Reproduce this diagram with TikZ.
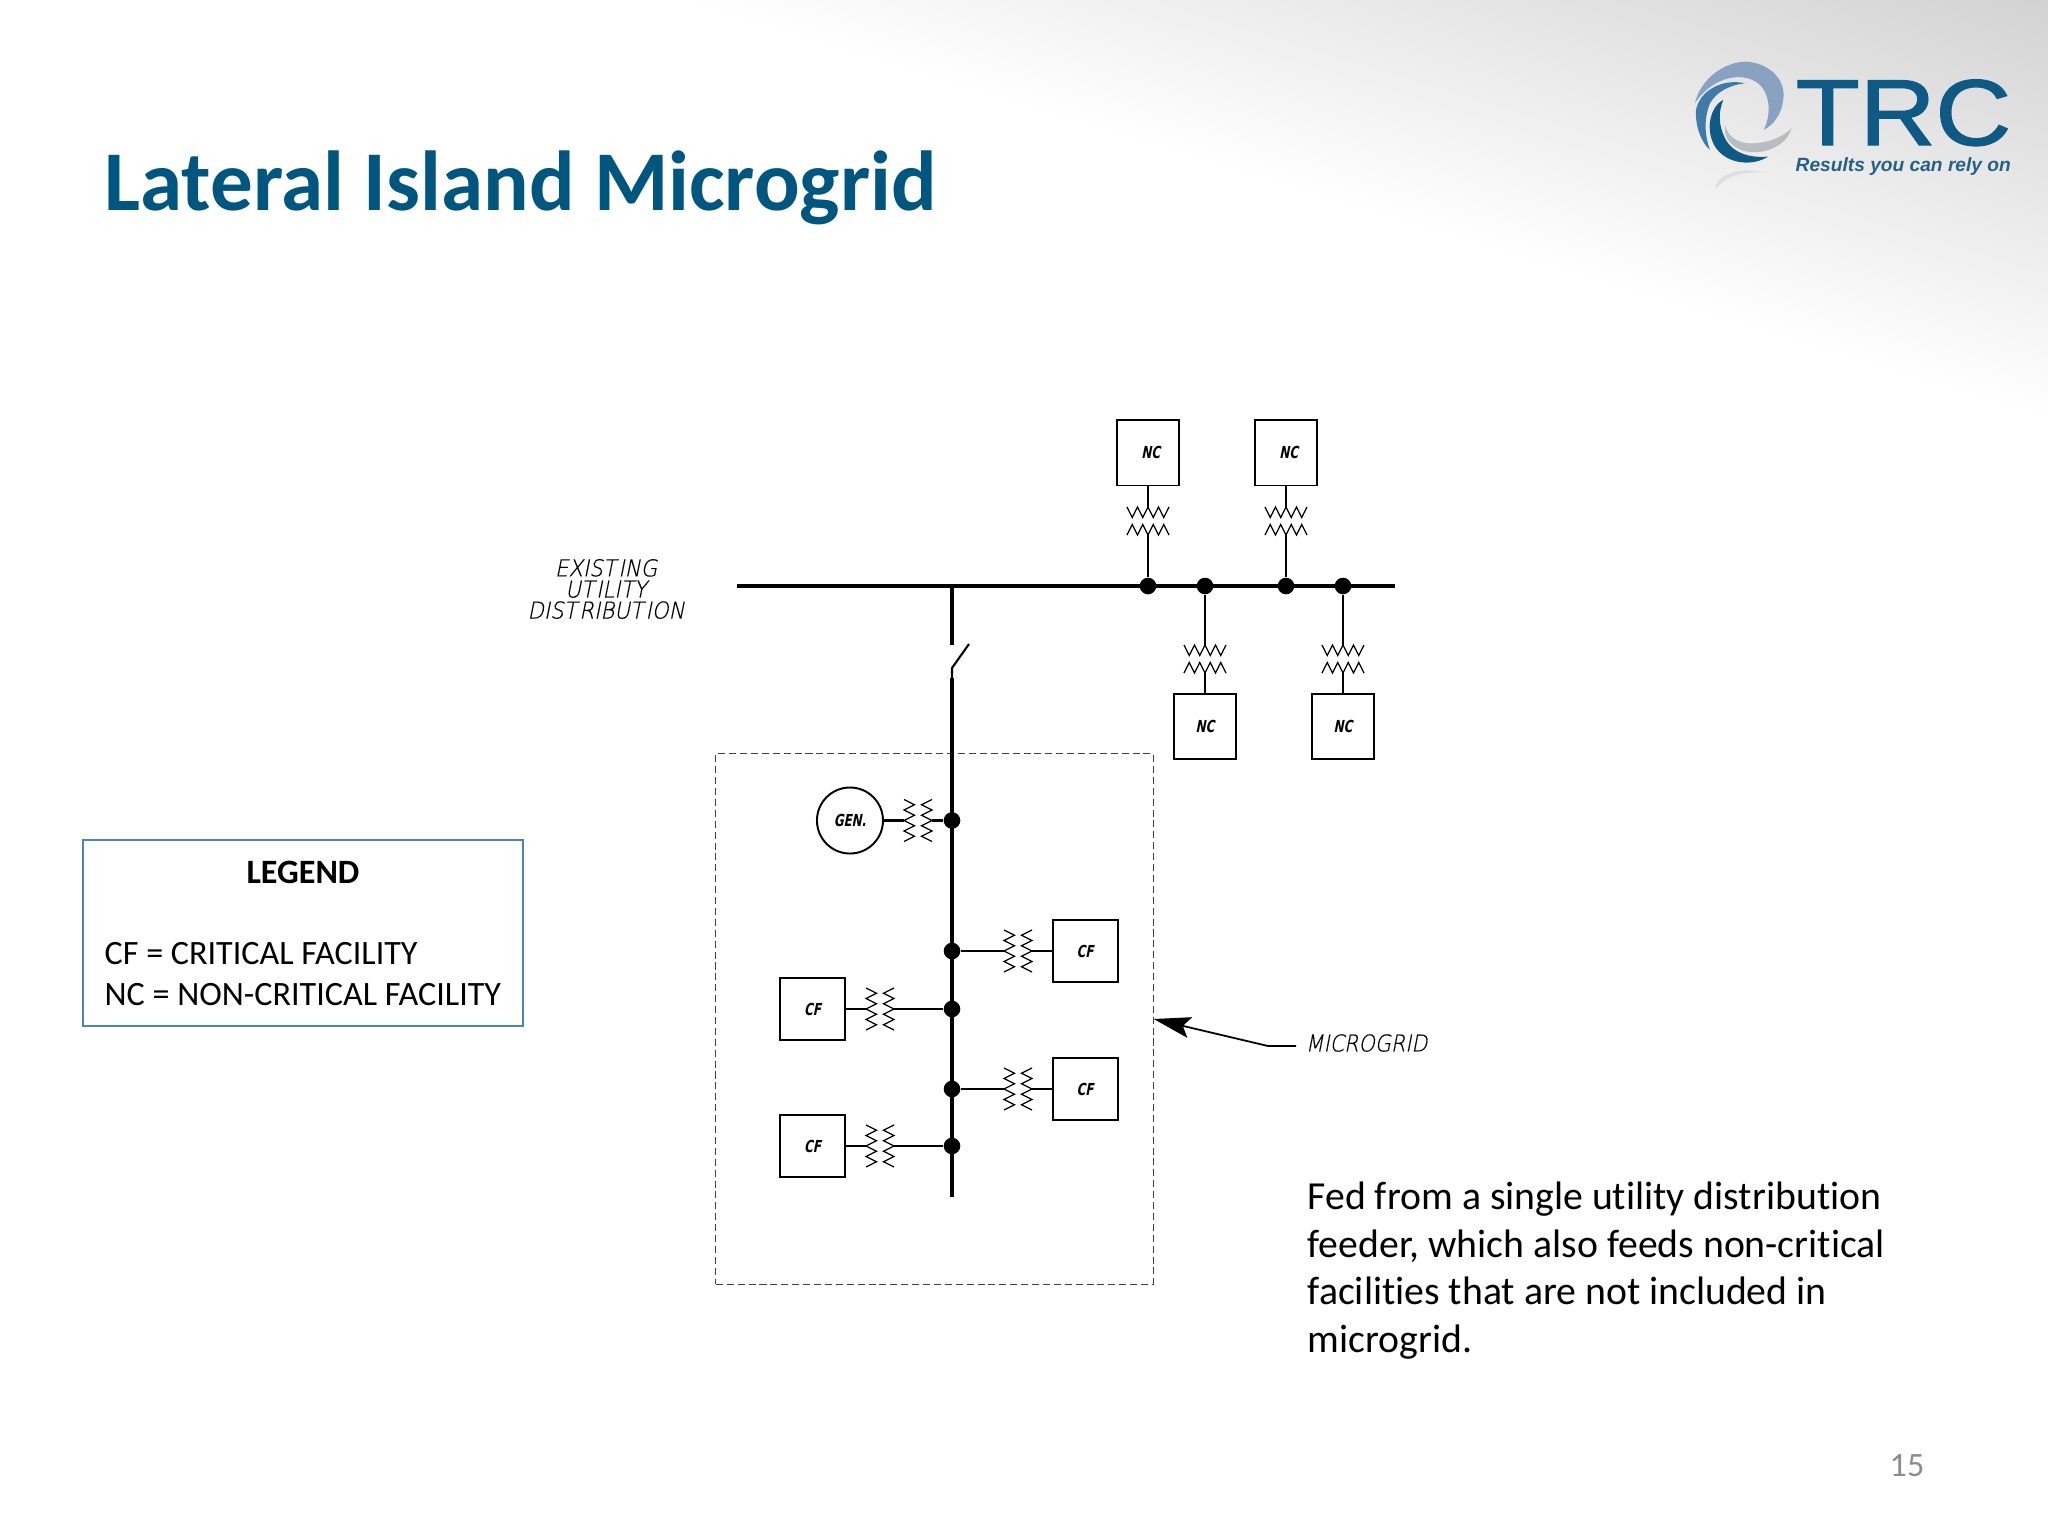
\documentclass[tikz,border=0pt]{standalone}
\usepackage{fontspec}
\usepackage{xcolor}
\usetikzlibrary{arrows.meta,positioning,calc}
\setmainfont[Ligatures=NoCommon]{Carlito}
\newfontfamily\cadfont[FakeSlant=0.2,FakeStretch=0.92,FakeBold=0.4]{DejaVu Sans ExtraLight}
\newfontfamily\cadbold[FakeSlant=0.2,FakeStretch=0.72]{DejaVu Sans Bold}
\newfontfamily\logofont{Liberation Sans}
\newfontfamily\logoheavy[FakeBold=1.5]{Liberation Sans}
\definecolor{titleblue}{HTML}{00567F}
\definecolor{legendblue}{HTML}{4F81BD}
\definecolor{pagegray}{HTML}{8C8C8C}
\definecolor{logoblue}{HTML}{0F5A85}
\definecolor{swirlmid}{HTML}{3F7AA8}
\definecolor{swirlpale}{HTML}{8AA2C2}
\definecolor{swirlgray}{HTML}{B9BDC2}

\begin{document}
\begin{tikzpicture}[
    x=0.01cm, y=-0.01cm,
    bus/.style={line width=0.95pt},
    wire/.style={line width=0.6pt},
    coil/.style={line width=0.33pt},
    ncbox/.style={rectangle, draw=black, line width=0.55pt, minimum width=0.62cm, minimum height=0.65cm, inner sep=0pt, font=\cadbold\fontsize{4.7}{5}\selectfont},
    cfbox/.style={rectangle, draw=black, line width=0.55pt, minimum width=0.65cm, minimum height=0.62cm, inner sep=0pt, font=\cadbold\fontsize{4.7}{5}\selectfont},
    gencircle/.style={circle, draw=black, line width=0.55pt, minimum size=0.66cm, inner sep=0pt, font=\cadbold\fontsize{4.7}{5}\selectfont},
    junction/.style={circle, fill=black, minimum size=0.166cm, inner sep=0pt},
    dashbox/.style={rectangle, draw=black!75, line width=0.35pt, dash pattern=on 2pt off 1.1pt, minimum width=4.37cm, minimum height=5.3cm},
    cadlabel/.style={font=\cadfont\fontsize{6.6}{6}\selectfont, align=center, inner sep=0pt},
    pointer/.style={line width=0.5pt, -{Stealth[length=10.5pt, width=6pt, inset=2pt]}},
    legendbox/.style={rectangle, draw=legendblue, line width=0.6pt, minimum width=4.4cm, minimum height=1.86cm},
    legendtext/.style={anchor=base west, inner sep=0pt, font=\fontsize{9.7}{12}\selectfont},
    xfmr/.pic={
        \coordinate (-a) at (0,-14);
        \coordinate (-b) at (0,14);
        \foreach \s in {-1,1}
            \draw[coil] (-21,14*\s) -- (-15.75,3.5*\s) -- (-10.5,14*\s) -- (-5.25,3.5*\s) -- (0,14*\s)
                -- (5.25,3.5*\s) -- (10.5,14*\s) -- (15.75,3.5*\s) -- (21,14*\s);
    }
]
    \useasboundingbox (0,0) rectangle (2048,1536);

    % page background
    \begin{scope}
        \clip (0,0) rectangle (2048,1536);
        \begin{scope}[transform canvas={rotate around={-17:(2048,420)}}]
            \shade[top color=black!20, bottom color=white] (400,-40) rectangle (2700,420);
        \end{scope}
    \end{scope}

    \node[anchor=base west, inner sep=0pt, text=titleblue, font=\bfseries\fontsize{24.2}{28}\selectfont] (title) at (104,210) {Lateral Island Microgrid};

    % logo
    \begin{scope}[shift={(1690,50)}, x=0.00333cm, y=-0.00333cm]
        \fill[swirlpale] (15,160) .. controls (30,90) and (100,35) .. (170,35) .. controls (240,40) and (290,90) .. (280,150)
            .. controls (275,195) and (250,225) .. (222,240) .. controls (240,200) and (245,150) .. (215,110)
            .. controls (170,60) and (70,75) .. (15,160) -- cycle;
        \fill[swirlmid] (165,100) .. controls (100,85) and (30,120) .. (18,180) .. controls (15,230) and (35,280) .. (60,300)
            .. controls (45,260) and (40,210) .. (60,160) .. controls (80,125) and (120,105) .. (165,100) -- cycle;
        \fill[logoblue] (100,150) .. controls (60,170) and (45,240) .. (75,290) .. controls (110,345) and (190,350) .. (235,320)
            .. controls (190,325) and (130,315) .. (105,265) .. controls (85,225) and (85,185) .. (100,150) -- cycle;
        \fill[swirlgray] (105,225) .. controls (115,270) and (160,285) .. (200,280) .. controls (245,275) and (280,260) .. (305,235)
            .. controls (290,290) and (220,315) .. (170,305) .. controls (125,295) and (100,265) .. (105,225) -- cycle;
        \fill[swirlgray, opacity=0.35] (75,420) .. controls (80,380) and (130,350) .. (225,368) .. controls (160,365) and (110,375) .. (75,420) -- cycle;
    \end{scope}
    \node[anchor=base west, inner sep=0pt, xscale=1.12, text=logoblue, font=\logoheavy\fontsize{26.6}{28}\selectfont] (logotrc) at (1795,145) {TRC};
    \node[anchor=base west, inner sep=0pt, text=logoblue!80!gray, font=\logofont\bfseries\itshape\fontsize{5.45}{6}\selectfont] (logotag) at (1795,171) {Results you can rely on};

    % legend
    \node[legendbox] (legend) at (303,933) {};
    \node[legendtext, anchor=base, font=\bfseries\fontsize{9.7}{12}\selectfont] (legendhead) at (303,883) {LEGEND};
    \node[legendtext] (legendcf) at (104,964) {CF = CRITICAL FACILITY};
    \node[legendtext] (legendnc) at (104,1005) {NC = NON-CRITICAL FACILITY};

    % utility feeder
    \coordinate (busleft) at (737,586);
    \coordinate (busright) at (1395,586);
    \coordinate (tap) at (952,586);
    \coordinate (swtop) at (952,645);
    \coordinate (swblade) at (969,644);
    \coordinate (swhinge) at (952,668);
    \coordinate (swlow) at (952,678);
    \coordinate (feedend) at (952,1197);
    \node[cadlabel] (existing) at (606,589) {EXIST\kern0.7pt ING\\UT\kern0.6pt ILITY\\DIST\kern0.7pt RIBUT\kern0.7pt ION};

    \node[junction] (d1) at (1148,586) {};
    \node[junction] (d2) at (1205,586) {};
    \node[junction] (d3) at (1286,586) {};
    \node[junction] (d4) at (1343,586) {};
    \node[ncbox, above=0.905cm of d1] (nc1) {\hspace{1.5pt}NC};
    \node[ncbox, above=0.905cm of d3] (nc2) {\hspace{1.5pt}NC};
    \node[ncbox, below=0.98cm of d2] (nc3) {NC};
    \node[ncbox, below=0.98cm of d4] (nc4) {NC};
    \pic (t1) at ($(d1)+(0,-65)$) {xfmr};
    \pic (t2) at ($(d3)+(0,-65)$) {xfmr};
    \pic (t3) at ($(d2)+(0,73)$) {xfmr};
    \pic (t4) at ($(d4)+(0,73)$) {xfmr};

    % microgrid
    \node[dashbox] (microgrid) at (934.5,1019) {};
    \node[junction] (g0) at (952,820.5) {};
    \node[junction] (c1) at (952,951) {};
    \node[junction] (c2) at (952,1009) {};
    \node[junction] (c3) at (952,1089) {};
    \node[junction] (c4) at (952,1146) {};
    \node[gencircle, left=0.59cm of g0] (gen) {GEN.};
    \node[cfbox, right=0.905cm of c1] (cf1) {CF};
    \node[cfbox, left=0.97cm of c2] (cf2) {CF};
    \node[cfbox, right=0.905cm of c3] (cf3) {CF};
    \node[cfbox, left=0.97cm of c4] (cf4) {CF};
    \pic[rotate=90] (t5) at ($(g0)+(-34,0)$) {xfmr};
    \pic[rotate=90] (t6) at ($(c1)+(66,0)$) {xfmr};
    \pic[rotate=90] (t7) at ($(c2)+(-72,0)$) {xfmr};
    \pic[rotate=90] (t8) at ($(c3)+(66,0)$) {xfmr};
    \pic[rotate=90] (t9) at ($(c4)+(-72,0)$) {xfmr};

    \draw[bus] (busleft) -- (busright);
    \draw[bus] (tap) -- (swtop);
    \draw[wire] (swblade) -- (swhinge) -- (swlow);
    \draw[bus] (swlow) -- (feedend);

    \draw[wire] (nc1) -- (t1-a);
    \draw[wire] (t1-b) -- (d1);
    \draw[wire] (nc2) -- (t2-a);
    \draw[wire] (t2-b) -- (d3);
    \draw[wire] (d2) -- (t3-a);
    \draw[wire] (t3-b) -- (nc3);
    \draw[wire] (d4) -- (t4-a);
    \draw[wire] (t4-b) -- (nc4);

    \draw[wire] (gen) -- (t5-a);
    \draw[wire] (t5-b) -- (g0);
    \draw[wire] (c1) -- (t6-a);
    \draw[wire] (t6-b) -- (cf1);
    \draw[wire] (cf2) -- (t7-a);
    \draw[wire] (t7-b) -- (c2);
    \draw[wire] (c3) -- (t8-a);
    \draw[wire] (t8-b) -- (cf3);
    \draw[wire] (cf4) -- (t9-a);
    \draw[wire] (t9-b) -- (c4);

    \node[cadlabel, anchor=west, xscale=0.97] (mgtext) at (1305,1043) {MICROGRID};
    \coordinate (mgstart) at (1296,1046);
    \coordinate (mgelbow) at (1268,1046);
    \draw[pointer] (mgstart) -- (mgelbow) -- (microgrid.east);

    \node[anchor=north west, inner sep=0pt, align=left, font=\fontsize{11.3}{13.6}\selectfont] (note) at (1307,1181) {Fed from a single utility distribution\\feeder, which also feeds non-critical\\facilities that are not included in\\microgrid.};
    \node[text=pagegray, inner sep=0pt, font=\fontsize{9.7}{11}\selectfont] (pagenum) at (1907,1466) {15};
\end{tikzpicture}
\end{document}
